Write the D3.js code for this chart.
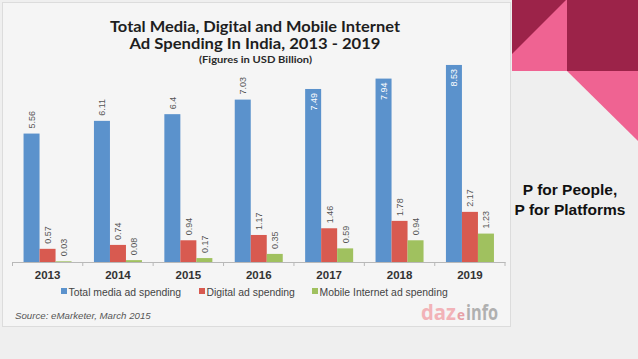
<!DOCTYPE html>
<html>
<head>
<meta charset="utf-8">
<script src="https://cdn.jsdelivr.net/npm/d3@7"></script>
<style>
  html, body { margin: 0; padding: 0; background: #efefef; }
  svg { display: block; }
</style>
</head>
<body>
<script>
const years = ["2013", "2014", "2015", "2016", "2017", "2018", "2019"];
const seriesNames = ["Total media ad spending", "Digital ad spending", "Mobile Internet ad spending"];
const totalMedia = [5.56, 6.11, 6.4, 7.03, 7.49, 7.94, 8.53];
const digital = [0.57, 0.74, 0.94, 1.17, 1.46, 1.78, 2.17];
const mobile = [0.03, 0.08, 0.17, 0.35, 0.59, 0.94, 1.23];
const colors = ["#5b92cc", "#d85a50", "#a0c15f"];

const W = 638, H = 359;
const svg = d3.select("body").append("svg").attr("width", W).attr("height", H);

// slide background
svg.append("rect").attr("width", W).attr("height", H).attr("fill", "#efefef");

// decorative shapes (right)
svg.append("rect").attr("x", 512).attr("y", 0).attr("width", 55).attr("height", 71).attr("fill", "#ef6392");
svg.append("path").attr("d", "M512,0 L566,0 L512,54 Z").attr("fill", "#9c2349");
svg.append("rect").attr("x", 567).attr("y", 0).attr("width", 71).attr("height", 71).attr("fill", "#9c2349");
svg.append("path").attr("d", "M567,71 L638,71 L638,141 Z").attr("fill", "#ef6392");

// chart image box
svg.append("rect").attr("x", 2.5).attr("y", 2.5).attr("width", 508).attr("height", 324)
  .attr("fill", "#f5f5f5").attr("stroke", "#dcdcdc").attr("stroke-width", 1);

// titles
const tfont = "Lato, 'Open Sans', sans-serif";
svg.append("text").attr("x", 255).attr("y", 32).attr("text-anchor", "middle")
  .attr("font-family", tfont).attr("font-weight", "bold").attr("font-size", 15.5).attr("fill", "#1e1e1e")
  .attr("textLength", 290).attr("lengthAdjust", "spacingAndGlyphs")
  .text("Total Media, Digital and Mobile Internet");
svg.append("text").attr("x", 255).attr("y", 48.5).attr("text-anchor", "middle")
  .attr("font-family", tfont).attr("font-weight", "bold").attr("font-size", 15.5).attr("fill", "#1e1e1e")
  .attr("textLength", 251).attr("lengthAdjust", "spacingAndGlyphs")
  .text("Ad Spending In India, 2013 - 2019");
svg.append("text").attr("x", 255.5).attr("y", 63).attr("text-anchor", "middle")
  .attr("font-family", tfont).attr("font-weight", "bold").attr("font-size", 9).attr("fill", "#2a2a2a")
  .attr("textLength", 113).attr("lengthAdjust", "spacingAndGlyphs")
  .text("(Figures in USD Billion)");

// scales
const x0 = d3.scaleBand().domain(years).range([12.5, 505]).paddingInner(0.318).paddingOuter(0.157);
const x1 = d3.scaleBand().domain(seriesNames).range([0, x0.bandwidth()]);
const y = d3.scaleLinear().domain([0, 10]).range([262, 31]);

const seriesData = [totalMedia, digital, mobile];
const rows = [];
years.forEach((yr, i) => {
  seriesNames.forEach((s, j) => rows.push({ year: yr, series: s, j, value: seriesData[j][i] }));
});

const g = svg.append("g");
g.selectAll("rect.bar").data(rows).join("rect").attr("class", "bar")
  .attr("x", d => x0(d.year) + x1(d.series))
  .attr("y", d => y(d.value))
  .attr("width", x1.bandwidth())
  .attr("height", d => y(0) - y(d.value))
  .attr("fill", d => colors[d.j]);

// value labels (rotated)
const lfont = "'Liberation Sans', Arial, sans-serif";
const isInside = d => y(d.value) - 28 < 66;
g.selectAll("text.val").data(rows).join("text").attr("class", "val")
  .attr("transform", d => {
    const cx = x0(d.year) + x1(d.series) + x1.bandwidth() / 2 + 3.5;
    const yy = isInside(d) ? y(d.value) + 4 : y(d.value) - 5;
    return `translate(${cx},${yy}) rotate(-90)`;
  })
  .attr("text-anchor", d => isInside(d) ? "end" : "start")
  .attr("font-family", lfont).attr("font-size", 9).attr("fill", d => isInside(d) ? "#ffffff" : "#555")
  .text(d => d.value);

// axis baseline with boundary ticks
const axisG = svg.append("g").attr("transform", "translate(0,262)");
axisG.call(d3.axisBottom(x0).tickSize(0).tickPadding(9));
axisG.select(".domain").attr("stroke", "#b8b8b8");
axisG.selectAll(".tick text").attr("font-family", lfont).attr("font-weight", "bold")
  .attr("font-size", 11.5).attr("fill", "#333");
const bounds = years.slice(1).map(yr => x0(yr) - x0.step() * x0.paddingInner() / 2);
axisG.selectAll("line.bt").data([12.5, ...bounds, 505]).join("line").attr("class", "bt")
  .attr("x1", d => d).attr("x2", d => d).attr("y1", 0).attr("y2", 4).attr("stroke", "#b8b8b8");

// legend
const legendX = [61, 199, 312];
const lg = svg.append("g");
seriesNames.forEach((s, j) => {
  lg.append("rect").attr("x", legendX[j]).attr("y", 288).attr("width", 6).attr("height", 6).attr("fill", colors[j]);
  lg.append("text").attr("x", legendX[j] + 7.5).attr("y", 295.5).attr("font-family", lfont)
    .attr("font-size", 10.4).attr("fill", "#444").text(s);
});

// source
svg.append("text").attr("x", 15).attr("y", 319).attr("font-family", lfont).attr("font-style", "italic")
  .attr("font-size", 9.7).attr("fill", "#555").text("Source: eMarketer, March 2015");

// logo (separate pieces)
const logoFont = "'Open Sans', sans-serif";
svg.append("text").attr("x", 421).attr("y", 320).attr("font-family", logoFont).attr("font-weight", "bold")
  .attr("font-size", 21).attr("fill", "#f2b3b8").attr("textLength", 35).attr("lengthAdjust", "spacingAndGlyphs").text("daz");
svg.append("text").attr("x", 457).attr("y", 320).attr("font-family", logoFont).attr("font-weight", "bold")
  .attr("font-size", 14).attr("fill", "#e7a0a6").attr("textLength", 8).attr("lengthAdjust", "spacingAndGlyphs").text("e");
svg.append("text").attr("x", 466).attr("y", 320).attr("font-family", logoFont).attr("font-weight", "bold")
  .attr("font-size", 21).attr("fill", "#b0b0b0").attr("textLength", 32).attr("lengthAdjust", "spacingAndGlyphs").text("info");

// right side text
const rt = svg.append("text").attr("text-anchor", "middle").attr("font-family", lfont)
  .attr("font-weight", "bold").attr("font-size", 15.5).attr("fill", "#111");
rt.append("tspan").attr("x", 570).attr("y", 195).text("P for People,");
rt.append("tspan").attr("x", 570).attr("y", 215).text("P for Platforms");
</script>
</body>
</html>
